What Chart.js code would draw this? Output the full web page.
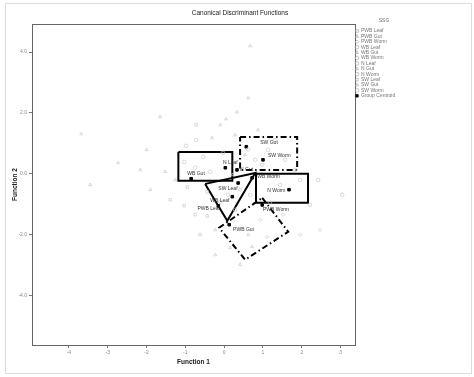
<!DOCTYPE html>
<html>
<head>
<meta charset="utf-8">
<script src="https://cdn.jsdelivr.net/npm/chart.js@4/dist/chart.umd.min.js"></script>
<style>
  body { margin: 0; background: #fff; }
</style>
</head>
<body>
<canvas id="myChart" width="474" height="377"></canvas>
<script>
const groups = ['PWB Leaf', 'PWB Gut', 'PWB Worm', 'WB Leaf', 'WB Gut', 'WB Worm',
    'N Leaf', 'N Gut', 'N Worm', 'SW Leaf', 'SW Gut', 'SW Worm'];

const xTicks = [-4, -3, -2, -1, 0, 1, 2, 3];
const yTicks = [-4, -2, 0, 2, 4];

// case scores per group [function 1, function 2]
const pwbLeaf = [[-0.44, -1.38], [-0.75, -1.34], [-1.03, -1.05], [-1.39, -0.85], [-0.62, -2.0]];
const pwbGut = [[0.15, -2.43], [0.41, -2.98], [-0.23, -2.66], [-0.23, -1.84], [0.62, -2.0], [0.72, -2.39]];
const pwbWorm = [[0.93, -1.51], [1.18, -0.95], [1.11, -2.07], [1.52, -1.34], [1.96, -2.0], [2.47, -1.84]];
const wbLeaf = [[-0.10, -0.92], [0.10, -0.69], [0.28, -1.18], [0.67, -0.69]];
const wbGut = [[-1.65, 1.87], [-3.68, 1.31], [-2.0, 0.79], [-2.73, 0.36], [-3.45, -0.36], [-1.52, 0.07],
    [-2.16, 0.13], [-1.26, -0.2], [-1.90, -0.52]];
const wbWorm = [[0.98, 0.30], [0.80, 0.46], [1.44, -0.36], [1.96, -0.2]];
const nLeaf = [[-0.03, 0.69], [-0.54, 0.56], [-1.03, 0.39], [-0.75, 0.20], [-0.36, 0.07], [-0.98, 0.92], [-0.72, 1.11]];
const nGut = [[0.21, -0.03], [0.54, 0.62], [-0.31, 1.18], [-0.10, 1.61], [0.05, 1.80]];
const nWorm = [[3.04, -0.69], [2.42, -0.2], [2.21, -1.02], [1.83, 0.13], [1.57, 0.46]];
const swLeaf = [[-0.95, -0.43], [-0.44, -0.59], [0.41, -0.52], [-0.72, 1.61]];
const swGut = [[0.67, 4.20], [0.62, 2.49], [0.33, 2.03], [0.28, 1.28], [0.87, 1.44]];
const swWorm = [[1.13, 0.79], [1.31, 1.11], [0.62, 0.80]];

const scores = [pwbLeaf, pwbGut, pwbWorm, wbLeaf, wbGut, wbWorm, nLeaf, nGut, nWorm, swLeaf, swGut, swWorm];

// group centroids, same order as groups
const centroids = [[-0.15, -1.05], [0.13, -1.67], [0.98, -1.02], [0.21, -0.75], [-0.85, -0.16], [0.72, -0.13],
    [0.03, 0.20], [0.33, 0.13], [1.67, -0.52], [0.36, -0.30], [0.57, 0.89], [1.0, 0.46]];

// drawn outlines
const boxLeft = [[-1.18, 0.72], [0.21, 0.72], [0.21, -0.23], [-1.18, -0.23], [-1.18, 0.72]];
const boxTop = [[0.41, 1.21], [1.88, 1.21], [1.88, 0.13], [0.41, 0.13], [0.41, 1.21]];
const boxRight = [[0.82, 0], [2.16, 0], [2.16, -0.95], [0.82, -0.95], [0.82, 0]];
const triangle = [[-0.49, -0.33], [0.80, 0.03], [0.08, -1.54], [-0.49, -0.33]];
const diamond = [[0.98, -0.79], [1.65, -1.90], [0.54, -2.82], [-0.13, -1.77], [0.98, -0.79]];

// where each centroid label starts
const labelPos = [[-0.69, -1.15], [0.23, -1.84], [1.0, -1.18], [-0.36, -0.89], [-0.95, 0.0], [0.85, -0.10],
    [-0.03, 0.36], [0.41, 0.13], [1.11, -0.56], [-0.15, -0.49], [0.93, 1.02], [1.13, 0.59]];

const markers = ['rect', 'triangle', 'rectRot', 'circle', 'triangle', 'circle',
    'circle', 'triangle', 'circle', 'rect', 'triangle', 'circle'];

const toXY = arr => arr.map(p => ({ x: p[0], y: p[1] }));

const datasets = groups.map((g, i) => ({
    label: g,
    data: toXY(scores[i]),
    pointStyle: markers[i],
    pointRadius: 1.8,
    pointBorderWidth: 0.7,
    borderColor: '#cacaca',
    backgroundColor: 'rgba(0,0,0,0)',
    showLine: false
}));

datasets.push({
    label: 'Group Centroid',
    data: toXY(centroids),
    pointStyle: 'rect',
    pointRadius: 1.8,
    borderColor: '#000',
    backgroundColor: '#000',
    showLine: false
});

const outline = (pts, dash) => ({
    label: '_outline',
    data: toXY(pts),
    showLine: true,
    pointRadius: 0,
    borderColor: '#000',
    borderWidth: 2,
    borderDash: dash,
    tension: 0,
    fill: false
});
datasets.push(outline(boxLeft, []));
datasets.push(outline(boxTop, [6, 3, 1.5, 3]));
datasets.push(outline(boxRight, []));
datasets.push(outline(triangle, []));
datasets.push(outline(diamond, [6, 3, 1.5, 3]));

const extras = {
    id: 'extras',
    beforeDraw(chart) {
        const ctx = chart.ctx;
        ctx.save();
        ctx.fillStyle = '#fff';
        ctx.fillRect(0, 0, chart.width, chart.height);
        ctx.strokeStyle = '#dcdcdc';
        ctx.lineWidth = 1;
        ctx.strokeRect(5.5, 3.5, 466, 370);
        ctx.restore();
    },
    afterDatasetsDraw(chart) {
        const ctx = chart.ctx;
        const { x, y } = chart.scales;
        const a = chart.chartArea;
        ctx.save();
        ctx.strokeStyle = '#666';
        ctx.lineWidth = 1;
        ctx.strokeRect(a.left + 0.5, a.top + 0.5, a.right - a.left, a.bottom - a.top);
        ctx.font = '5px "Liberation Sans", Arial, sans-serif';
        ctx.fillStyle = '#333';
        ctx.textBaseline = 'middle';
        ctx.textAlign = 'left';
        groups.forEach((g, i) => {
            ctx.fillText(g, x.getPixelForValue(labelPos[i][0]), y.getPixelForValue(labelPos[i][1]));
        });
        ctx.restore();
    },
    afterDraw(chart) {
        const ctx = chart.ctx;
        ctx.save();
        ctx.fillStyle = '#222';
        ctx.textAlign = 'center';
        ctx.textBaseline = 'middle';
        ctx.font = '6.5px "Liberation Sans", Arial, sans-serif';
        ctx.fillText('Canonical Discriminant Functions', 240, 13);
        ctx.fillStyle = '#777';
        ctx.font = '5px "Liberation Sans", Arial, sans-serif';
        ctx.fillText('SSG', 384, 21);
        ctx.textAlign = 'left';
        const legendItems = chart.data.datasets.filter(d => d.label !== '_outline');
        legendItems.forEach((d, i) => {
            const yy = 31 + i * 5.4;
            ctx.fillStyle = '#777';
            ctx.fillText(d.label, 361, yy);
            ctx.strokeStyle = d.borderColor === '#000' ? '#000' : '#aaa';
            ctx.fillStyle = d.backgroundColor;
            ctx.lineWidth = 0.7;
            Chart.helpers.drawPoint(ctx, { pointStyle: d.pointStyle, radius: 1.8, borderWidth: 0.7 }, 357, yy);
        });
        ctx.restore();
    }
};

Chart.defaults.font.family = '"Liberation Sans", Arial, sans-serif';

const config = {
    type: 'scatter',
    data: { datasets: datasets },
    options: {
        responsive: false,
        animation: false,
        layout: { padding: { top: 24, right: 119, left: 0, bottom: 0 } },
        plugins: {
            legend: { display: false },
            tooltip: { enabled: false }
        },
        scales: {
            x: {
                min: -4.95,
                max: 3.37,
                afterBuildTicks: s => { s.ticks = xTicks.map(v => ({ value: v })); },
                afterFit: s => { s.height = 32; },
                ticks: { font: { size: 5 }, color: '#888', padding: 2, maxRotation: 0 },
                grid: { drawOnChartArea: false, drawTicks: true, tickLength: 3, color: '#777' },
                border: { display: true, color: '#666' },
                title: { display: true, text: 'Function 1', color: '#222', font: { size: 6.5, weight: 'bold' }, padding: { top: 0, bottom: 11 } }
            },
            y: {
                min: -5.62,
                max: 4.92,
                afterBuildTicks: s => { s.ticks = yTicks.map(v => ({ value: v })); },
                afterFit: s => { s.width = 32; },
                ticks: { font: { size: 5 }, color: '#888', padding: 2, callback: v => v.toFixed(1) },
                grid: { drawOnChartArea: false, drawTicks: true, tickLength: 3, color: '#777' },
                border: { display: true, color: '#666' },
                title: { display: true, text: 'Function 2', color: '#222', font: { size: 6.5, weight: 'bold' }, padding: { top: 11, bottom: 0 } }
            }
        }
    },
    plugins: [extras]
};

const chart = new Chart(document.getElementById('myChart'), config);
</script>
</body>
</html>
